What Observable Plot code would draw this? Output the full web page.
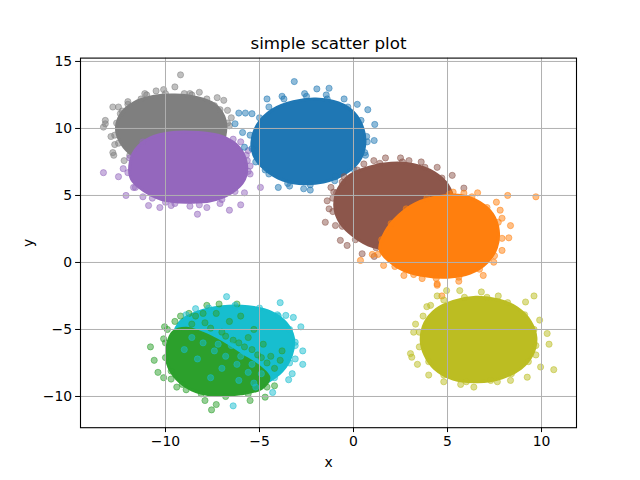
<!DOCTYPE html>
<html>
<head>
<meta charset="utf-8">
<script src="https://cdn.jsdelivr.net/npm/d3@7"></script>
<script src="https://cdn.jsdelivr.net/npm/@observablehq/plot@0.6"></script>
<style>
  html, body { margin: 0; padding: 0; background: #fff; }
</style>
</head>
<body>
<div id="chart"></div>
<script>
// ---- data ----
const xTicks = [-10, -5, 0, 5, 10];
const yTicks = [-10, -5, 0, 5, 10, 15];
const titleText = "simple scatter plot";
const xLabel = "x";
const yLabel = "y";

// dense cores (outline of the solid region) and scattered points per cluster
const grayCore = [[-12.6,9.8],[-12.4,11.0],[-11.7,11.9],[-10.6,12.4],[-9.5,12.5],[-8.3,12.3],[-7.4,11.8],[-6.9,10.9],[-6.8,9.8],[-7.1,8.6],[-7.8,7.7],[-9.0,7.3],[-10.3,7.3],[-11.5,7.8],[-12.2,8.6]];
const grayDots = [[-9.2,14.0],[-9.5,13.1],[-10.1,12.9],[-12.8,11.6],[-12.5,11.6],[-13.3,10.1],[-13.2,10.35],[-13.2,10.6],[-12.75,8.0],[-12.8,8.2],[-12.2,7.6],[-7.25,12.3],[-6.9,12.1],[-6.7,11.35],[-7.4,11.7],[-8.7,12.6],[-12.0,12.0],[-12.4,11.1],[-11.1,12.6],[-10.5,12.8],[-8.2,12.7],[-12.9,9.4],[-12.7,8.8],[-6.5,10.8],[-6.6,10.2],
  [-12.7,9.5],[-12.6,10.4],[-12.3,11.3],[-11.3,12.2],[-10.0,12.6],[-9.0,12.6],[-7.8,12.2],[-7.1,11.4],[-6.7,10.4],[-12.5,8.9],[-11.9,8.0],[-11.0,12.5],[-8.6,12.5],[-12.0,11.8]];

const purpleCore = [[-11.9,7.2],[-11.6,8.4],[-10.8,9.3],[-9.6,9.7],[-8.3,9.7],[-7.0,9.4],[-6.1,8.6],[-5.7,7.4],[-5.8,6.2],[-6.5,5.2],[-7.6,4.6],[-8.9,4.5],[-10.2,4.7],[-11.2,5.4],[-11.8,6.2]];
const purpleDots = [[-13.3,6.7],[-12.5,6.4],[-12.25,7.0],[-12.1,5.0],[-10.9,4.25],[-8.3,3.6],[-6.6,3.9],[-6.0,4.3],[-5.8,5.2],[-4.95,5.6],[-5.65,7.6],[-5.6,8.35],[-6.4,9.2],[-9.7,4.25],[-11.2,4.9],[-7.1,4.4],[-10.3,4.1],[-7.8,4.1],[-11.7,5.6],[-5.5,6.6],
  [-12.0,6.7],[-11.9,7.8],[-11.2,9.0],[-5.6,6.8],[-5.7,8.0],[-6.3,5.3],[-7.0,4.7],[-8.2,4.3],[-9.5,4.4],[-10.7,4.8],[-11.6,5.6],[-6.0,9.0],[-5.5,7.2],[-8.7,4.2],[-10.0,4.5]];

const blueCore = [[-5.4,9.0],[-5.1,10.3],[-4.3,11.4],[-3.2,12.0],[-2.0,12.2],[-0.8,11.9],[0.0,11.2],[0.5,10.0],[0.6,8.8],[0.3,7.6],[-0.5,6.6],[-1.6,6.0],[-2.9,5.9],[-4.0,6.3],[-4.9,7.2],[-5.3,8.0]];
const blueDots = [[-3.15,13.5],[-1.95,12.95],[-1.3,13.0],[-1.45,12.5],[-4.6,12.2],[-6.1,11.15],[-5.75,11.15],[-5.4,11.1],[0.76,11.4],[1.13,10.3],[1.1,9.1],[0.73,9.0],[0.64,8.0],[-5.2,8.35],[-5.8,8.6],[-4.7,6.9],[-4.0,5.6],[-2.65,5.5],[-2.3,5.4],[-0.96,6.4],[-6.3,10.35],[-0.5,12.2],[-3.8,12.4],[-2.6,12.6],[0.2,11.8],[-5.9,9.7],[-3.4,5.7],
  [-5.5,9.5],[-5.4,8.5],[-5.0,10.8],[-4.5,11.6],[-3.7,12.2],[-2.5,12.4],[-1.4,12.2],[-0.3,11.6],[0.4,10.6],[0.7,9.4],[0.6,8.2],[0.0,7.0],[-1.0,6.1],[-2.3,5.8],[-3.5,5.9],[-4.5,6.6],[-5.2,7.5]];

const brownCore = [[-1.0,4.3],[-0.8,5.5],[-0.2,6.5],[0.8,7.1],[2.0,7.4],[3.2,7.3],[4.3,6.7],[5.0,5.8],[5.3,4.6],[5.1,3.3],[4.4,2.2],[3.3,1.3],[2.0,1.0],[0.8,1.3],[-0.2,2.2],[-0.8,3.2]];
const brownDots = [[2.5,7.8],[2.95,7.6],[4.45,7.1],[5.25,6.5],[5.87,5.55],[1.08,7.6],[0.55,7.35],[-1.4,4.6],[-1.3,4.0],[-1.5,3.0],[-0.96,2.76],[-0.7,1.65],[-0.34,1.27],[0.46,0.65],[1.1,0.45],[1.97,0.27],[-1.05,5.25],[3.6,7.5],[1.7,7.8],[-0.5,6.4],[-1.2,5.6],
  [-1.1,3.8],[-1.1,4.8],[-0.6,6.0],[0.2,6.9],[1.4,7.4],[2.6,7.5],[3.8,7.1],[4.7,6.3],[-0.6,2.7],[0.1,1.7],[1.2,1.1],[2.5,0.9],[-0.9,5.2]];

const orangeCore = [[1.4,1.0],[1.7,2.3],[2.4,3.5],[3.3,4.4],[4.5,4.9],[5.7,5.0],[6.7,4.5],[7.4,3.6],[7.7,2.4],[7.6,1.1],[7.1,0.0],[6.2,-0.8],[5.0,-1.1],[3.8,-1.0],[2.7,-0.6],[1.9,0.1]];
const orangeDots = [[8.2,5.0],[7.6,4.5],[7.8,3.9],[7.9,3.3],[8.35,2.75],[8.26,1.84],[7.9,0.9],[7.46,0.02],[6.9,-0.97],[4.45,-1.6],[3.65,-1.2],[2.68,-0.97],[1.6,-0.22],[0.37,0.15],[5.87,5.17],[5.3,5.25],[9.7,4.9],[4.45,-1.7],[4.7,-2.5],[5.6,-1.4],[1.0,0.6],[6.6,5.2],
  [1.3,0.6],[1.5,1.7],[2.0,2.9],[2.8,4.0],[3.9,4.8],[5.1,5.1],[6.3,4.9],[7.1,4.1],[7.7,3.0],[7.9,1.8],[7.5,0.5],[6.7,-0.5],[5.6,-1.1],[4.4,-1.2],[3.2,-0.9],[2.2,-0.3]];

const cyanCore = [[-9.6,-5.5],[-9.2,-4.4],[-8.3,-3.7],[-7.0,-3.3],[-5.6,-3.3],[-4.4,-3.7],[-3.6,-4.5],[-3.2,-5.6],[-3.3,-6.9],[-3.8,-8.1],[-4.7,-9.0],[-5.8,-9.5],[-7.2,-9.5],[-8.5,-9.0],[-9.4,-8.0],[-9.7,-6.8]];
const cyanDots = [[-6.75,-2.55],[-3.9,-3.0],[-3.6,-3.95],[-3.2,-4.1],[-2.8,-4.8],[-3.1,-5.95],[-2.7,-6.6],[-2.7,-7.6],[-3.1,-7.2],[-3.45,-8.75],[-4.3,-9.7],[-6.4,-10.7],[-8.4,-3.45],[-4.05,-3.9],[-3.26,-8.3],
  [-8.9,-3.9],[-7.7,-3.4],[-6.3,-3.2],[-5.0,-3.4],[-4.0,-4.0],[-3.4,-5.0],[-3.1,-6.2],[-3.4,-7.5],[-4.2,-8.6],[-5.2,-9.3],
  [-7.4,-6.6],[-6.8,-7.0],[-6.2,-7.6],[-5.6,-8.2],[-8.0,-6.0],[-8.6,-5.6],[-7.0,-7.9],[-6.1,-8.8],[-5.3,-9.0],[-9.0,-6.5],[-7.6,-8.6],[-6.5,-6.2],[-8.3,-7.2],
  [-7.2,-6.1],[-6.0,-7.0],[-5.4,-7.6],[-4.9,-8.3]];

const greenCore = [[-9.9,-6.2],[-9.6,-5.2],[-8.9,-4.9],[-8.0,-5.3],[-7.0,-6.0],[-6.0,-6.9],[-5.0,-7.8],[-4.5,-8.6],[-4.9,-9.4],[-6.0,-9.8],[-7.4,-9.9],[-8.6,-9.5],[-9.4,-8.7],[-9.9,-7.5]];
const greenDots = [[-10.8,-6.3],[-10.6,-7.3],[-10.4,-8.2],[-10.1,-8.6],[-9.7,-8.7],[-9.4,-9.3],[-8.9,-9.5],[-7.9,-10.3],[-7.55,-11.0],[-7.3,-10.6],[-5.5,-10.3],[-4.7,-10.05],[-4.2,-9.2],[-3.9,-7.3],[-7.15,-3.1],[-6.2,-3.1],[-10.05,-4.8],[-10.1,-5.7],[-7.8,-3.2],[-8.75,-3.8],
  [-10.0,-6.0],[-10.0,-7.1],[-9.7,-8.1],[-9.1,-9.1],[-8.1,-9.8],[-6.8,-10.0],[-5.6,-9.8],[-4.6,-9.3],[-9.9,-5.0],[-9.5,-4.4],
  [-7.0,-5.2],[-6.4,-5.8],[-5.8,-6.3],[-5.1,-6.9],[-4.6,-7.5],[-7.9,-4.5],[-8.4,-4.0],[-6.6,-4.4],[-5.6,-5.6],[-4.8,-6.1],[-4.2,-7.9],[-7.3,-3.8],[-6.0,-4.0],[-8.0,-3.8],[-5.3,-5.0],[-9.2,-4.0],[-3.8,-6.6],[-4.4,-7.0],
  [-7.6,-4.9],[-6.8,-5.5],[-6.1,-6.0],[-5.4,-6.5],[-4.9,-7.1],[-8.6,-4.6]];

const oliveCore = [[3.6,-5.8],[3.8,-4.5],[4.4,-3.5],[5.3,-2.9],[6.5,-2.6],[7.7,-2.8],[8.7,-3.4],[9.4,-4.4],[9.7,-5.6],[9.5,-6.9],[8.9,-7.9],[7.9,-8.6],[6.6,-8.9],[5.3,-8.7],[4.3,-7.9],[3.8,-6.9]];
const oliveDots = [[3.03,-6.8],[3.1,-7.07],[3.3,-4.6],[3.2,-5.2],[4.0,-8.4],[4.8,-8.9],[6.4,-9.3],[7.65,-8.9],[8.35,-8.8],[9.24,-8.56],[9.95,-7.8],[10.65,-8.0],[10.3,-5.3],[10.4,-6.1],[9.7,-6.9],[9.6,-2.5],[9.15,-2.95],[4.95,-2.1],[5.65,-2.1],[6.8,-2.2],[7.7,-2.5],[3.9,-3.3],[4.45,-2.5],[5.7,-9.1],[3.4,-7.6],[9.9,-4.3],
  [3.5,-5.2],[3.5,-6.3],[3.7,-4.0],[4.1,-3.2],[4.8,-2.8],[5.9,-2.6],[7.1,-2.6],[8.2,-3.0],[9.1,-3.9],[9.6,-5.0],[9.7,-6.2],[9.3,-7.4],[8.4,-8.3],[7.3,-8.8],[6.0,-8.9],[4.8,-8.4],[4.0,-7.4]];

// ---- palette (matplotlib tab10) ----
const palette = {
  gray: "#7f7f7f", purple: "#9467bd", blue: "#1f77b4", brown: "#8c564b",
  orange: "#ff7f0e", cyan: "#17becf", green: "#2ca02c", olive: "#bcbd22"
};

// drawing order as in the reference
const layers = [
  {core: grayCore, dots: grayDots, color: palette.gray},
  {core: purpleCore, dots: purpleDots, color: palette.purple},
  {core: blueCore, dots: blueDots, color: palette.blue},
  {core: brownCore, dots: brownDots, color: palette.brown},
  {core: orangeCore, dots: orangeDots, color: palette.orange},
  {core: cyanCore, dots: [], color: palette.cyan},
  {core: greenCore, dots: greenDots, color: palette.green},
  {core: [], dots: cyanDots, color: palette.cyan},
  {core: oliveCore, dots: oliveDots, color: palette.olive}
];

const X = d => d[0], Y = d => d[1];
const dataMarks = [];
for (const c of layers) {
  if (c.core.length) {
    dataMarks.push(Plot.line(c.core, {
      x: X, y: Y, curve: "catmull-rom-closed",
      fill: c.color, stroke: c.color, strokeWidth: 3, strokeOpacity: 1,
      strokeLinejoin: "round"
    }));
  }
  if (c.dots.length) {
    dataMarks.push(Plot.dot(c.dots, {
      x: X, y: Y, r: 3.1,
      fill: c.color, fillOpacity: 0.5,
      stroke: c.color, strokeOpacity: 0.5, strokeWidth: 1
    }));
  }
}

const chart = Plot.plot({
  width: 640,
  height: 480,
  marginLeft: 80,
  marginRight: 64,
  marginTop: 57.6,
  marginBottom: 52.8,
  style: {fontFamily: "DejaVu Sans, sans-serif", fontSize: "13.9px", color: "black", background: "white"},
  x: {domain: [-14.52, 11.86], label: null},
  y: {domain: [-12.33, 15.25], label: null},
  marks: [
    ...dataMarks,
    Plot.gridX(xTicks, {stroke: "#b0b0b0", strokeOpacity: 1, strokeWidth: 1}),
    Plot.gridY(yTicks, {stroke: "#b0b0b0", strokeOpacity: 1, strokeWidth: 1}),
    Plot.frame({stroke: "black", strokeWidth: 1.1}),
    Plot.axisX(xTicks, {tickSize: 4.9, tickPadding: 3.5, stroke: "black", fill: "black", label: null}),
    Plot.axisY(yTicks, {tickSize: 4.9, tickPadding: 3.5, stroke: "black", fill: "black", label: null}),
    Plot.text([titleText], {frameAnchor: "top", dy: -14, lineAnchor: "middle", textAnchor: "middle", fontSize: 16.7, fill: "black"}),
    Plot.text([xLabel], {frameAnchor: "bottom", dy: 35, lineAnchor: "middle", textAnchor: "middle", fontSize: 13.9, fill: "black"}),
    Plot.text([yLabel], {frameAnchor: "left", dx: -52, rotate: -90, lineAnchor: "middle", textAnchor: "middle", fontSize: 13.9, fill: "black"})
  ]
});
document.getElementById("chart").appendChild(chart);
</script>
</body>
</html>
